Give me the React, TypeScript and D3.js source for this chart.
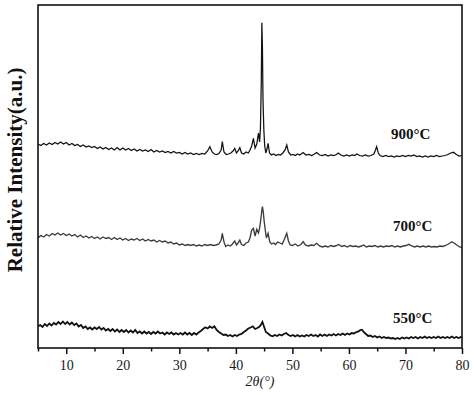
import React, { useEffect, useRef } from 'react';
import * as d3 from 'd3';

type Pt = [number, number];

// 2θ (deg), relative intensity (a.u.)
const xrd550: Pt[] = [
  [5, 18.7], [5.4, 20], [5.8, 18], [6.2, 21], [6.6, 19], [7, 21.5], [7.4, 19.5], [7.8, 22], [8.2, 20.5], [8.6, 23],
  [9, 21], [9.4, 23.5], [9.8, 21], [10.2, 23], [10.6, 20.5], [11, 22.5], [11.4, 20], [11.8, 21.5], [12.2, 18.5], [12.6, 20],
  [13, 17], [13.4, 18.5], [13.8, 16], [14.2, 17.5], [14.6, 15.5], [15, 17.5], [15.4, 16], [15.8, 18], [16.2, 15.5], [16.6, 17],
  [17, 14.5], [17.4, 16], [17.8, 14], [18.2, 16], [18.6, 13.5], [19, 15.5], [19.4, 13], [19.8, 15], [20.2, 13], [20.6, 15],
  [21, 12.5], [21.4, 14.5], [21.8, 12.5], [22.2, 15], [22.6, 12], [23, 13.5], [23.4, 11.5], [23.8, 13.5], [24.2, 11.5], [24.6, 13],
  [25, 11], [25.4, 13], [25.8, 11.5], [26.2, 13.5], [26.6, 11.5], [27, 12.5], [27.4, 10.5], [27.8, 12.5], [28.2, 11], [28.6, 12.5],
  [29, 10.5], [29.4, 12], [29.8, 10.5], [30.2, 12], [30.6, 10.5], [31, 12.5], [31.4, 10.5], [31.8, 12], [32.2, 10], [32.6, 12],
  [33, 10.5], [33.4, 12.5], [33.8, 14], [34.2, 16], [34.6, 17.7], [35, 16.5], [35.4, 18.5], [35.8, 17], [36.2, 18.7], [36.6, 15],
  [37, 13], [37.4, 11.5], [37.8, 10], [38.2, 10.5], [38.6, 9], [39, 10], [39.4, 8.5], [39.8, 10], [40.2, 9], [40.6, 10.5],
  [41, 11], [41.4, 13], [41.8, 14.5], [42.2, 16.5], [42.6, 17.5], [43, 18.7], [43.4, 16], [43.8, 17], [44.2, 18.5], [44.5, 21],
  [44.7, 23], [45, 18], [45.3, 13], [45.7, 11.5], [46.1, 9.5], [46.5, 8.7], [46.9, 10], [47.3, 9], [47.7, 10.5], [48.1, 9.5],
  [48.5, 11], [48.9, 12], [49.3, 10], [49.7, 9], [50.1, 10], [50.5, 8.5], [50.9, 10], [51.3, 8.5], [51.7, 9.5], [52.1, 8.5],
  [52.5, 10], [52.9, 9], [53.3, 10.5], [53.7, 9], [54.1, 10], [54.5, 8.5], [54.9, 10.5], [55.3, 9], [55.7, 10.5], [56.1, 9],
  [56.5, 10.5], [56.9, 9.5], [57.3, 11], [57.7, 9.5], [58.1, 11], [58.5, 10], [58.9, 11.5], [59.3, 10], [59.7, 11.5], [60.1, 10.5],
  [60.5, 12], [60.9, 11.5], [61.3, 13], [61.7, 13.5], [62, 15], [62.3, 15.3], [62.6, 13], [63, 11], [63.4, 9], [63.8, 9.5],
  [64.2, 8], [64.6, 9], [65, 7.5], [65.4, 8.5], [65.8, 7], [66.2, 8], [66.6, 7], [67, 7.5], [67.4, 6.5], [67.8, 7],
  [68.2, 6], [68.6, 7], [69, 6], [69.4, 7.5], [69.8, 6.5], [70.2, 7.5], [70.6, 6.5], [71, 8], [71.4, 7], [71.8, 8],
  [72.2, 6.5], [72.6, 8], [73, 7], [73.4, 8.5], [73.8, 7], [74.2, 8], [74.6, 7], [75, 8], [75.4, 7], [75.8, 8.5],
  [76.2, 7], [76.6, 8], [77, 7], [77.4, 8], [77.8, 7], [78.2, 8.5], [78.6, 7], [79, 8], [79.4, 7], [79.8, 8], [80, 7.5],
];

const xrd700: Pt[] = [
  [5, 12], [5.5, 14.5], [6, 13], [6.5, 15.5], [7, 14], [7.5, 16.5], [8, 15], [8.5, 17], [9, 15], [9.5, 16.5],
  [10, 14.5], [10.5, 16], [11, 14], [11.5, 15.5], [12, 13], [12.5, 15], [13, 12.5], [13.5, 14], [14, 12], [14.5, 13.5],
  [15, 11.5], [15.5, 13], [16, 11], [16.5, 13], [17, 11.5], [17.5, 12.5], [18, 10.5], [18.5, 12.5], [19, 10.5], [19.5, 12],
  [20, 10], [20.5, 11.5], [21, 9.5], [21.5, 11], [22, 10], [22.5, 11.5], [23, 9.5], [23.5, 11], [24, 9], [24.5, 10.5],
  [25, 9], [25.5, 10], [26, 8], [26.5, 9.5], [27, 8], [27.5, 9], [28, 7], [28.5, 8], [29, 6], [29.5, 7],
  [30, 5], [30.5, 6], [31, 4.5], [31.5, 5.5], [32, 4.5], [32.5, 5.5], [33, 4], [33.5, 5], [34, 4], [34.5, 5.5],
  [35, 4.5], [35.5, 5.5], [36, 4.5], [36.5, 5], [37, 6], [37.4, 10], [37.6, 16.7], [37.9, 8], [38.2, 3.5], [38.6, 5],
  [39, 4], [39.4, 6], [39.8, 9], [40.1, 5], [40.4, 7], [40.7, 10], [41, 5.5], [41.4, 4.5], [41.8, 7], [42.2, 8],
  [42.5, 12], [42.8, 20], [43.1, 21.7], [43.4, 14], [43.7, 20.7], [44, 17], [44.2, 22], [44.4, 30], [44.6, 40], [44.7, 43.3],
  [44.85, 38], [45, 29], [45.2, 20], [45.4, 12], [45.7, 16.7], [46, 8], [46.3, 6], [46.7, 7], [47, 5.5], [47.4, 8],
  [47.8, 7], [48.2, 6], [48.6, 11], [49, 16.7], [49.3, 9], [49.6, 5], [50, 4.5], [50.5, 6], [51, 4], [51.5, 5.5],
  [51.9, 8.3], [52.3, 5], [52.8, 4], [53.3, 5], [53.8, 4.5], [54.3, 6.7], [54.8, 4], [55.3, 3], [55.8, 4], [56.3, 3],
  [56.8, 4.5], [57.3, 3.5], [57.8, 4.5], [58.2, 5.5], [58.7, 3.5], [59.2, 4.5], [59.7, 3], [60.2, 4.5], [60.7, 3.5], [61.2, 4],
  [61.7, 3], [62.2, 4], [62.6, 5], [63.1, 3], [63.6, 4], [64.1, 3.5], [64.6, 4.5], [65.1, 3], [65.6, 4], [66.1, 3],
  [66.6, 4], [67.1, 3.5], [67.6, 4.5], [68.1, 3], [68.6, 4], [69.1, 3], [69.6, 4], [70.1, 4.5], [70.6, 5.7], [71.1, 4],
  [71.6, 3], [72.1, 4], [72.6, 3], [73.1, 4], [73.6, 3], [74.1, 4], [74.6, 3], [75.1, 3.5], [75.6, 3], [76.1, 4],
  [76.6, 3.5], [77.1, 4.5], [77.6, 6], [78.2, 8.3], [78.7, 6.5], [79.2, 4.5], [79.6, 3], [80, 2.3],
];

const xrd900: Pt[] = [
  [5, 14], [5.5, 12.5], [6, 14.5], [6.5, 13], [7, 15], [7.5, 13.5], [8, 15.5], [8.5, 14], [9, 16], [9.5, 14],
  [10, 15.5], [10.5, 13], [11, 14.5], [11.5, 12.5], [12, 13.5], [12.5, 11.5], [13, 13], [13.5, 11], [14, 12], [14.5, 10.5],
  [15, 11.5], [15.5, 9.5], [16, 11], [16.5, 9], [17, 10.5], [17.5, 8.5], [18, 10], [18.5, 8], [19, 10.5], [19.5, 8],
  [20, 10], [20.5, 8], [21, 9.5], [21.5, 7.5], [22, 9], [22.5, 7], [23, 8.5], [23.5, 7], [24, 8], [24.5, 6.5],
  [25, 8.5], [25.5, 6], [26, 7.5], [26.5, 6], [27, 7], [27.5, 5.5], [28, 6.5], [28.5, 5], [29, 6.5], [29.5, 5],
  [30, 5.5], [30.5, 4], [31, 5.5], [31.5, 4], [32, 5], [32.5, 3.5], [33, 4.5], [33.5, 3.5], [34, 4.5], [34.5, 4],
  [35, 7], [35.4, 11.3], [35.8, 6], [36.2, 4], [36.6, 3.5], [37, 4.5], [37.4, 8], [37.6, 16.3], [37.9, 6], [38.3, 3.5],
  [38.7, 4], [39.1, 5], [39.5, 7], [39.8, 9.7], [40.1, 5], [40.4, 7], [40.7, 10.3], [41, 5], [41.4, 4], [41.8, 6],
  [42.2, 5], [42.5, 8], [42.8, 12], [43.1, 19.7], [43.4, 10], [43.7, 14], [44, 25], [44.2, 16], [44.35, 30], [44.5, 78],
  [44.6, 135.3], [44.7, 110], [44.8, 58], [44.95, 28], [45.1, 12], [45.3, 5], [45.5, 9], [45.7, 14.7], [45.95, 5], [46.3, 3],
  [46.7, 4], [47.1, 2.5], [47.5, 3.5], [47.9, 3], [48.3, 5], [48.7, 8], [49, 13], [49.3, 6], [49.7, 3], [50.1, 3.5],
  [50.5, 2.5], [50.9, 4], [51.3, 3], [51.9, 5.5], [52.4, 3], [52.9, 3.5], [53.4, 2.5], [53.9, 4], [54.3, 5.5], [54.8, 3],
  [55.3, 2.5], [55.8, 3.5], [56.3, 2], [56.8, 3], [57.3, 2.5], [57.8, 3.5], [58.1, 5], [58.6, 3], [59.1, 2], [59.6, 3],
  [60.1, 2], [60.6, 3], [61, 2.5], [61.4, 4], [61.9, 2.5], [62.4, 2], [62.9, 3], [63.4, 2], [63.9, 2.5], [64.4, 4],
  [64.7, 8], [64.9, 11.3], [65.2, 5], [65.5, 2.5], [66, 1.5], [66.5, 2.5], [67, 1.5], [67.5, 2], [68, 1], [68.5, 2],
  [69, 1.5], [69.5, 2.5], [70, 1.5], [70.5, 2.5], [71, 2], [71.5, 3], [72, 1.5], [72.5, 2], [73, 1], [73.5, 2],
  [74, 1], [74.5, 2], [75, 1.5], [75.5, 2.5], [76, 1.5], [76.5, 2], [77, 2.5], [77.5, 3.5], [78, 5], [78.5, 5.7],
  [79, 3.5], [79.5, 2], [80, 2.5],
];

const seriesNames = ['550°C', '700°C', '900°C'];
const seriesOffsets = [3, 98, 190];
const xTicks = [10, 20, 30, 40, 50, 60, 70, 80];
const xMinorTicks = [5, 15, 25, 35, 45, 55, 65, 75];

const W = 474;
const H = 395;
const SERIF = '"Liberation Serif", "Times New Roman", serif';

export default function App() {
  const svgRef = useRef<SVGSVGElement>(null);

  useEffect(() => {
    if (!svgRef.current) return;
    const svg = d3.select(svgRef.current);
    svg.selectAll('*').remove();

    const margin = { top: 5, right: 12, bottom: 47, left: 38 };

    const x = d3.scaleLinear()
      .domain([5, 80])
      .range([margin.left, W - margin.right]);

    const y = d3.scaleLinear()
      .domain([0, 343])
      .range([H - margin.bottom, margin.top]);

    const data = [xrd550, xrd700, xrd900];
    const colors = ['#111', '#3c3c3c', '#111'];
    const widths = [1.8, 1.35, 1.25];

    data.forEach((d, i) => {
      const line = d3.line<Pt>()
        .x(p => x(p[0]))
        .y(p => y(p[1] + seriesOffsets[i]));
      svg.append('path')
        .datum(d)
        .attr('fill', 'none')
        .attr('stroke', colors[i])
        .attr('stroke-width', widths[i])
        .attr('stroke-linejoin', 'miter')
        .attr('d', line);
    });

    // frame
    svg.append('rect')
      .attr('x', margin.left)
      .attr('y', margin.top)
      .attr('width', W - margin.left - margin.right)
      .attr('height', H - margin.top - margin.bottom)
      .attr('fill', 'none')
      .attr('stroke', '#111')
      .attr('stroke-width', 1.6);

    const xAxis = svg.append('g')
      .attr('transform', `translate(0,${H - margin.bottom})`)
      .call(d3.axisBottom(x).tickValues(xTicks).tickSize(6).tickPadding(6).tickFormat(d3.format('d')));
    xAxis.select('.domain').remove();
    xAxis.selectAll('line').attr('stroke', '#111').attr('stroke-width', 1.5);
    xAxis.selectAll('text')
      .attr('fill', '#1a1a1a')
      .style('font-family', SERIF)
      .style('font-size', '14px');

    const minor = svg.append('g')
      .attr('transform', `translate(0,${H - margin.bottom})`)
      .call(d3.axisBottom(x).tickValues(xMinorTicks).tickSize(3.5).tickFormat(() => ''));
    minor.select('.domain').remove();
    minor.selectAll('line').attr('stroke', '#111').attr('stroke-width', 1.5);

    svg.append('text')
      .attr('x', 260)
      .attr('y', 386)
      .attr('text-anchor', 'middle')
      .style('font-family', SERIF)
      .style('font-style', 'italic')
      .style('font-size', '14px')
      .attr('fill', '#1a1a1a')
      .text('2θ(°)');

    svg.append('text')
      .attr('transform', 'translate(22,170) rotate(-90)')
      .attr('text-anchor', 'middle')
      .style('font-family', SERIF)
      .style('font-weight', 'bold')
      .style('font-size', '21px')
      .attr('fill', '#111')
      .text('Relative Intensity(a.u.)');

    const labelY = [323, 230.5, 138.5];
    seriesNames.forEach((name, i) => {
      svg.append('text')
        .attr('x', i === 2 ? 391 : 393)
        .attr('y', labelY[i])
        .style('font-family', SERIF)
        .style('font-weight', 'bold')
        .style('font-size', '15px')
        .attr('fill', '#111')
        .text(name);
    });
  }, []);

  return (
    <svg
      ref={svgRef}
      width={W}
      height={H}
      style={{ position: 'absolute', left: 0, top: 0, background: '#fff' }}
    />
  );
}
